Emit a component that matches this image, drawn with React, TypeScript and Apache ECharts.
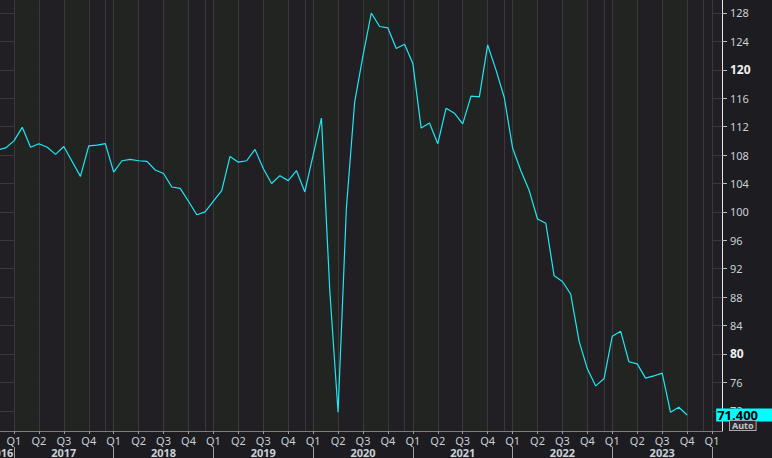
import { useEffect, useRef } from "react";
import * as echarts from "echarts";

// Monthly observations (YYYY-MM) and their values
const months: string[] = [
  "2016-11", "2016-12",
  "2017-01", "2017-02", "2017-03", "2017-04", "2017-05", "2017-06", "2017-07", "2017-08", "2017-09", "2017-10", "2017-11", "2017-12",
  "2018-01", "2018-02", "2018-03", "2018-04", "2018-05", "2018-06", "2018-07", "2018-08", "2018-09", "2018-10", "2018-11", "2018-12",
  "2019-01", "2019-02", "2019-03", "2019-04", "2019-05", "2019-06", "2019-07", "2019-08", "2019-09", "2019-10", "2019-11", "2019-12",
  "2020-01", "2020-02", "2020-03", "2020-04", "2020-05", "2020-06", "2020-07", "2020-08", "2020-09", "2020-10", "2020-11", "2020-12",
  "2021-01", "2021-02", "2021-03", "2021-04", "2021-05", "2021-06", "2021-07", "2021-08", "2021-09", "2021-10", "2021-11", "2021-12",
  "2022-01", "2022-02", "2022-03", "2022-04", "2022-05", "2022-06", "2022-07", "2022-08", "2022-09", "2022-10", "2022-11", "2022-12",
  "2023-01", "2023-02", "2023-03", "2023-04", "2023-05", "2023-06", "2023-07", "2023-08", "2023-09", "2023-10",
];

const values: number[] = [
  108.7, 109.0,
  110.0, 111.9, 109.1, 109.6, 109.1, 108.1, 109.2, 107.1, 105.0, 109.3, 109.4, 109.6,
  105.6, 107.2, 107.4, 107.2, 107.1, 105.9, 105.4, 103.5, 103.3, 101.5, 99.6, 100.0,
  101.5, 103.0, 107.8, 107.0, 107.2, 108.8, 106.1, 104.0, 105.1, 104.4, 105.8, 102.8,
  108.0, 113.2, 89.0, 71.8, 100.5, 115.5, 122.0, 128.0, 126.1, 125.9, 123.0, 123.6,
  120.9, 111.8, 112.5, 109.6, 114.6, 113.9, 112.4, 116.3, 116.2, 123.5, 120.0, 116.1,
  109.0, 105.8, 103.0, 99.0, 98.4, 91.0, 90.2, 88.4, 81.8, 77.9, 75.5, 76.5,
  82.5, 83.2, 78.9, 78.6, 76.6, 76.9, 77.3, 71.8, 72.5, 71.4,
];

const quarterLabels: string[] = ["Q1", "Q2", "Q3", "Q4"];
const years: number[] = [2016, 2017, 2018, 2019, 2020, 2021, 2022, 2023];
const yTicks: number[] = [72, 76, 80, 84, 88, 92, 96, 100, 104, 108, 112, 116, 120, 124, 128];
const boldTicks: number[] = [80, 120];

const BASE_YEAR = 2017;
const X_MIN = -1.68;
const X_MAX = 85.2;
const Y_MIN = 69.15;
const Y_MAX = 129.83;

function monthIndex(s: string): number {
  const [y, m] = s.split("-").map(Number);
  return (y - BASE_YEAR) * 12 + (m - 1);
}

const FONT = '"Noto Sans", "DejaVu Sans", sans-serif';
const LABEL_COLOR = "#c8d0d8";

export default function App() {
  const ref = useRef<HTMLDivElement>(null);

  useEffect(() => {
    if (!ref.current) return;
    const chart = echarts.init(ref.current, undefined, { renderer: "svg" });

    const lastYear = years[years.length - 1];
    const quarterTicks: number[] = [];
    for (let m = 0; m <= (lastYear - BASE_YEAR + 1) * 12; m += 3) quarterTicks.push(m);
    const yearStarts: number[] = [];
    for (let y = BASE_YEAR; y <= lastYear + 1; y++) yearStarts.push((y - BASE_YEAR) * 12);
    const yearLabelPos: number[] = years.map((y) => (y < BASE_YEAR ? -1.6 : (y - BASE_YEAR) * 12 + 6));
    const gridV: number[] = [...quarterTicks];
    for (let y = BASE_YEAR; y <= lastYear; y++) gridV.push((y - BASE_YEAR) * 12 + 11);
    gridV.sort((a, b) => a - b);

    const seriesData = months.map((mo, i) => [monthIndex(mo), values[i]]);
    const lastValue = values[values.length - 1];

    const common = {
      type: "value" as const,
      min: X_MIN,
      max: X_MAX,
      gridIndex: 0,
    };

    chart.setOption({
      animation: false,
      backgroundColor: "#1d1c20",
      grid: {
        left: 0,
        right: 50,
        top: 0,
        bottom: 27,
        containLabel: false,
        outerBoundsMode: "none",
        show: true,
        backgroundColor: "#211f24",
        borderWidth: 0,
      },
      xAxis: [
        {
          ...common,
          position: "bottom",
          axisLine: { show: true, onZero: false, lineStyle: { color: "#7c7c7c", width: 1 } },
          axisTick: {
            show: true,
            customValues: quarterTicks,
            length: 3,
            lineStyle: { color: "#9a9a9a" },
          },
          axisLabel: {
            show: true,
            customValues: quarterTicks,
            margin: 4,
            color: LABEL_COLOR,
            fontFamily: FONT,
            fontSize: 11,
            formatter: (v: number) => quarterLabels[((Math.round(v) % 12) + 12) % 12 / 3],
          },
          splitLine: { show: false },
          splitArea: {
            show: true,
            areaStyle: { color: ["#212420", "#211f24"] },
          },
        },
        {
          ...common,
          position: "bottom",
          offset: 16,
          axisLine: { show: false, onZero: false },
          axisTick: {
            show: true,
            customValues: yearStarts,
            length: 12,
            lineStyle: { color: "#a0a0a0" },
          },
          axisLabel: {
            show: true,
            customValues: yearLabelPos,
            margin: 0,
            color: LABEL_COLOR,
            fontFamily: FONT,
            fontSize: 11,
            fontWeight: "bold",
            formatter: (v: number) => String(v < 0 ? BASE_YEAR - 1 : BASE_YEAR + Math.floor(v / 12)),
          },
          splitLine: { show: false },
        },
        {
          ...common,
          position: "bottom",
          axisLine: { show: false, onZero: false },
          axisTick: { show: false, customValues: gridV },
          axisLabel: { show: false },
          splitLine: { show: true, lineStyle: { color: "#393939", width: 1 } },
        },
      ],
      yAxis: {
        type: "value",
        position: "right",
        min: Y_MIN,
        max: Y_MAX,
        axisLine: { show: true, onZero: false, lineStyle: { color: "#e6e6e6", width: 1 } },
        axisTick: {
          show: true,
          customValues: yTicks,
          length: 5,
          lineStyle: { color: "#bfbfbf" },
        },
        axisLabel: {
          show: true,
          customValues: yTicks,
          margin: 8,
          color: LABEL_COLOR,
          fontFamily: FONT,
          fontSize: 11,
          formatter: (v: number) => (boldTicks.includes(v) ? `{b|${v}}` : `${v}`),
          rich: {
            b: { fontWeight: "bold", color: "#f2f2f2", fontFamily: FONT, fontSize: 12 },
          },
        },
        splitLine: { show: true, lineStyle: { color: "#393939", width: 1 } },
        axisPointer: {
          show: true,
          status: "show",
          value: lastValue,
          triggerTooltip: false,
          type: "line",
          lineStyle: { opacity: 0 },
          label: {
            show: true,
            margin: 0,
            formatter: () => lastValue.toFixed(3),
            backgroundColor: "#00ffff",
            color: "#000000",
            fontFamily: FONT,
            fontWeight: "bold",
            fontSize: 13,
            padding: [0, 14, 0, 1],
            borderRadius: 0,
            shadowBlur: 0,
          },
        },
      },
      graphic: [
        {
          type: "text",
          left: 729,
          top: 420,
          z: 100,
          style: {
            text: "Auto",
            fill: "#c8c8c8",
            font: `bold 9px ${FONT}`,
            backgroundColor: "#2b2a2e",
            borderColor: "#a8a8a8",
            borderWidth: 1,
            padding: [0, 2, 0, 2],
          },
        },
      ],
      series: [
        {
          type: "line",
          xAxisIndex: 0,
          yAxisIndex: 0,
          data: seriesData,
          showSymbol: false,
          symbol: "none",
          clip: true,
          lineStyle: { color: "#1ee8f4", width: 1.2 },
        },
      ],
    });

    return () => chart.dispose();
  }, []);

  return (
    <div
      ref={ref}
      style={{ position: "absolute", left: 0, top: 0, width: 772, height: 458 }}
    />
  );
}
